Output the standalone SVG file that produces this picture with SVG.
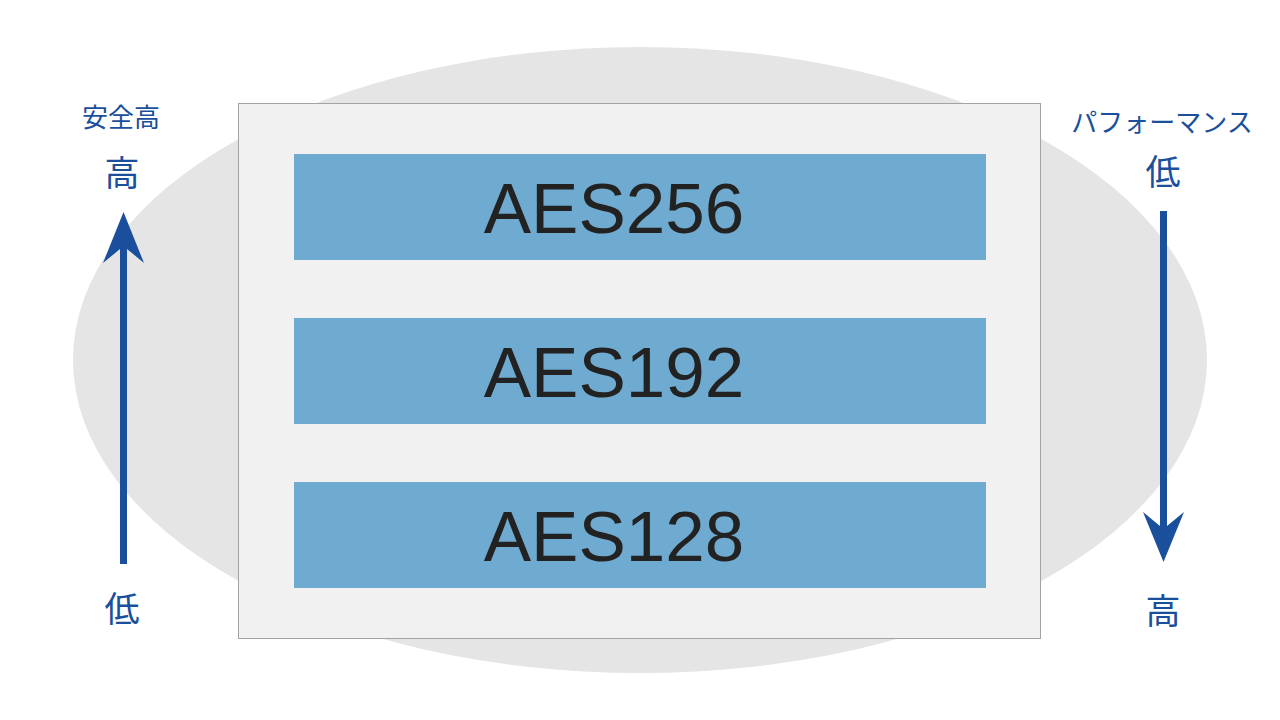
<svg xmlns="http://www.w3.org/2000/svg" width="1280" height="720" viewBox="0 0 1280 720">
<style>
.bar{fill:#6fabd0}
.aes{font-family:"Liberation Sans",Arial,sans-serif;font-size:71px;fill:#222222;text-anchor:middle}
.lbl{font-family:"Noto Sans CJK JP","Noto Sans CJK SC",sans-serif;fill:#1a4f9c;text-anchor:middle}
.arr{fill:#1a4f9c}
</style>
<rect width="1280" height="720" fill="#ffffff"/>
<ellipse cx="640" cy="360" rx="567" ry="313" fill="#e5e5e5"/>
<g id="container">
<rect x="238.5" y="103.5" width="802" height="535" fill="#f1f1f1" stroke="#a3a3a3" stroke-width="1"/>
</g>
<g id="aes256">
<rect class="bar" x="294" y="154" width="692" height="106"/>
<text class="aes" x="614" y="233">AES256</text>
</g>
<g id="aes192">
<rect class="bar" x="294" y="318" width="692" height="106"/>
<text class="aes" x="614" y="397">AES192</text>
</g>
<g id="aes128">
<rect class="bar" x="294" y="482" width="692" height="106"/>
<text class="aes" x="614" y="561">AES128</text>
</g>
<g id="left-labels">
<text class="lbl" x="121" y="127" font-size="26">安全高</text>
<text class="lbl" x="122" y="186" font-size="35">高</text>
<text class="lbl" x="122" y="622" font-size="35">低</text>
</g>
<g id="right-labels">
<text class="lbl" x="1162" y="132" font-size="26">パフォーマンス</text>
<text class="lbl" x="1163" y="185" font-size="35">低</text>
<text class="lbl" x="1163" y="624" font-size="35">高</text>
</g>
<g id="connectors">
<path class="arr" d="M120,564 L120,249 L103,263 L123.5,212 L144,263 L127,249 L127,564 Z"/>
<path class="arr" d="M1160,211 L1160,526 L1143,512 L1163.5,562 L1184,512 L1167,526 L1167,211 Z"/>
</g>
</svg>
